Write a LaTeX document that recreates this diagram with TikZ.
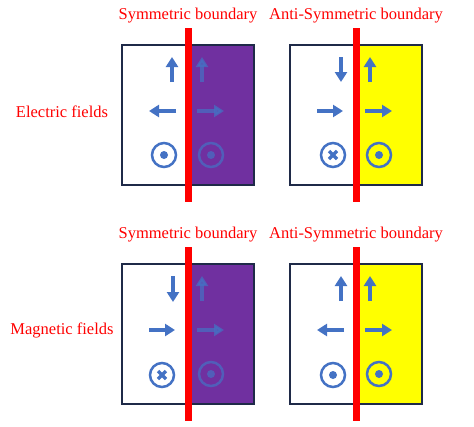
\documentclass[tikz,border=0pt]{standalone}
\usepackage{fontspec}
\setmainfont{Liberation Serif}
\usetikzlibrary{arrows.meta,positioning}
\definecolor{fieldblue}{HTML}{4472C4}
\definecolor{bndpurple}{HTML}{7030A0}
\definecolor{bndyellow}{HTML}{FFFF00}
\definecolor{framenavy}{HTML}{1F2A48}
\tikzset{
  fld/.style={draw=fieldblue,line width=4pt,-{Triangle[length=10pt,width=12pt]}},
  frame/.style={draw=framenavy,line width=2pt},
  bnd/.style={draw=red,line width=7pt},
  ttl/.style={text=red,font=\fontsize{16.5}{18}\selectfont,inner sep=0pt},
  dotcirc/.pic={\draw[fieldblue,line width=2.5pt] (0,0) circle (12pt);
                \fill[fieldblue] (0,0) circle (4pt);},
  crosscirc/.pic={\draw[fieldblue,line width=2.5pt] (0,0) circle (12pt);
                  \draw[fieldblue,line width=3.5pt] (-4,-4) -- (4,4) (-4,4) -- (4,-4);}
}
% one panel: red line at x, box top at y, fill, opacity on the far side, left half
\newcommand\halfpanel[6]{%
  \begin{scope}[shift={(#1,#2)}]
    \fill[#3] (0,0) rectangle (66,140);
    \draw[frame] (-66,0) rectangle (66,140);
    #5
    \begin{scope}[opacity=#4]
      \draw[fld] (14,37) -- (14,12);
      \draw[fld] (9,66) -- (36,66);
      \pic at (23,110) {dotcirc};
    \end{scope}
    \draw[bnd] (0,-17) -- (0,157);
    \node[ttl] (#6) at (0,-29) {#6};
  \end{scope}}

\begin{document}
\begin{tikzpicture}[x=1pt,y=-1pt]
  \useasboundingbox (0,0) rectangle (474,426);

  \halfpanel{188}{45}{bndpurple}{.7}{%
    \draw[fld] (-16,37) -- (-16,12);
    \draw[fld] (-12,66) -- (-39,66);
    \pic at (-24,110) {dotcirc};}{Symmetric boundary}
  \halfpanel{356}{45}{bndyellow}{1}{%
    \draw[fld] (-15,12) -- (-15,37);
    \draw[fld] (-39,66) -- (-13,66);
    \pic at (-23,110) {crosscirc};}{Anti-Symmetric boundary}
  \halfpanel{188}{264}{bndpurple}{.7}{%
    \draw[fld] (-15,12) -- (-15,38);
    \draw[fld] (-39,66) -- (-13,66);
    \pic at (-26,111) {crosscirc};}{Symmetric boundary}
  \halfpanel{356}{264}{bndyellow}{1}{%
    \draw[fld] (-15,37) -- (-15,12);
    \draw[fld] (-12,66) -- (-39,66);
    \pic at (-23,111) {dotcirc};}{Anti-Symmetric boundary}

  \node[ttl] (elec) at (62,112) {Electric fields};
  \node[ttl] (magn) at (62,330) {Magnetic fields};
\end{tikzpicture}
\end{document}
